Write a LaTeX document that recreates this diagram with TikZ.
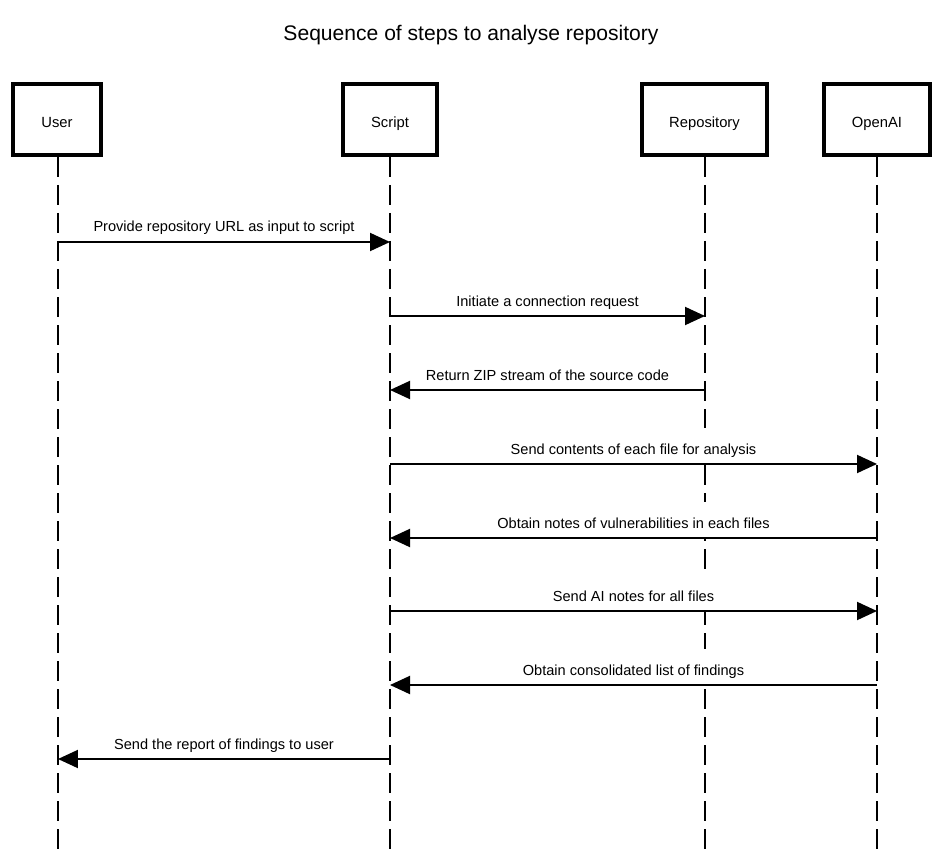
\documentclass[tikz,border=0pt]{standalone}
\usepackage{fontspec}
\setmainfont{Liberation Sans}
\usetikzlibrary{arrows.meta}
\begin{document}
\begin{tikzpicture}[x=0.02cm,y=-0.02cm,
  actor/.style={draw=black,line width=2.2pt,fill=white,minimum height=71*0.02cm,inner sep=0pt,
    text height=20*0.02cm,text depth=3*0.02cm,font=\fontsize{8.4}{10}\selectfont},
  life/.style={draw=black,line width=1.1pt,dash pattern=on 20*0.02cm off 8*0.02cm},
  msg/.style={draw=black,line width=1.1pt,-{Triangle[length=0.4cm,width=0.36cm]}},
  lbl/.style={anchor=base,fill=white,inner xsep=2*0.02cm,inner ysep=2*0.02cm,
    text height=24*0.02cm,text depth=8*0.02cm,font=\fontsize{8.3}{10}\selectfont}]
\useasboundingbox (0,0) rectangle (943,851);
\node[anchor=base,font=\fontsize{12}{14}\selectfont] (title) at (471,41) {Sequence of steps to analyse repository};
\node[actor,minimum width=88*0.02cm] (user) at (57,119.5) {User};
\node[actor,minimum width=94*0.02cm] (script) at (390,119.5) {Script};
\node[actor,minimum width=125*0.02cm] (repo) at (704.5,119.5) {Repository};
\node[actor,minimum width=106*0.02cm] (openai) at (877,119.5) {OpenAI};
\coordinate (userend) at (58,851);
\coordinate (scriptend) at (390,851);
\coordinate (repoend) at (705,851);
\coordinate (openaiend) at (877,851);
\draw[life] (58,157) -- (userend);
\draw[life] (390,157) -- (scriptend);
\draw[life] (705,157) -- (repoend);
\draw[life] (877,157) -- (openaiend);
% messages
\foreach \y/\a/\b/\t in {
  242/userend/scriptend/{Provide repository URL as input to script},
  316/scriptend/repoend/{Initiate a connection request},
  390/repoend/scriptend/{Return ZIP stream of the source code},
  464/scriptend/openaiend/{Send contents of each file for analysis},
  538/openaiend/scriptend/{Obtain notes of vulnerabilities in each files},
  611/scriptend/openaiend/{Send AI notes for all files},
  685/openaiend/scriptend/{Obtain consolidated list of findings},
  759/scriptend/userend/{Send the report of findings to user}}{
  \coordinate (s\y) at (\a |- 0,\y);
  \coordinate (e\y) at (\b |- 0,\y);
  \path (s\y) -- (e\y) node[midway,yshift=10*0.02cm,lbl] (l\y) {\t};
  \draw[msg] (s\y) -- (e\y);
}
\end{tikzpicture}
\end{document}
